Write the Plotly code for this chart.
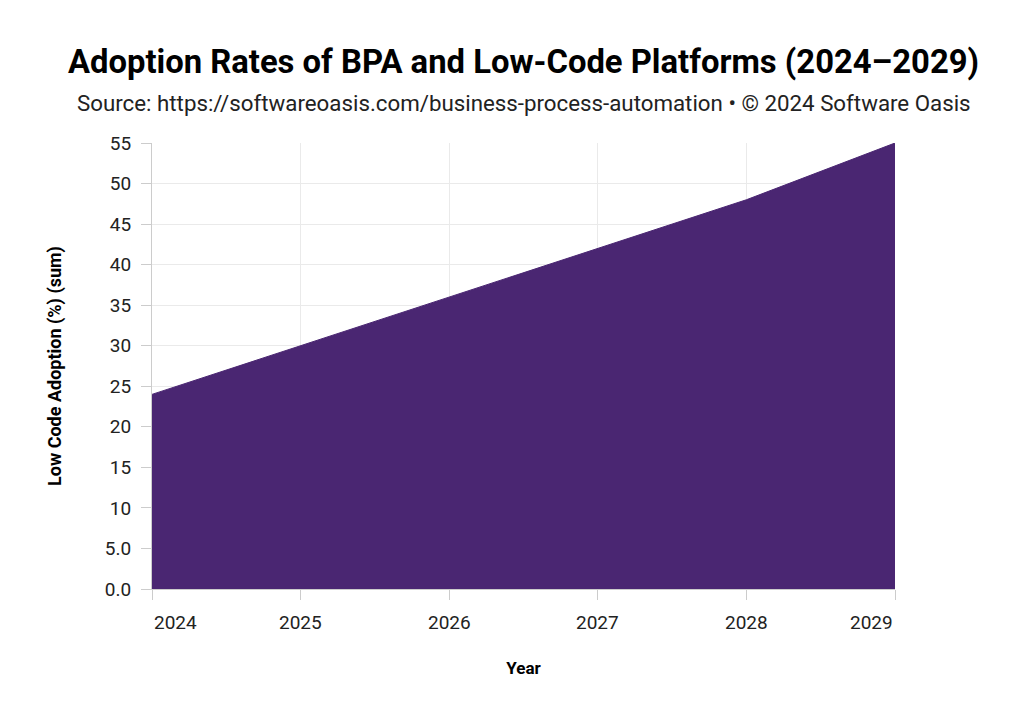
import plotly.graph_objects as go

years = [2024, 2025, 2026, 2027, 2028, 2029]
low_code = [24, 30, 36, 42, 48, 55]

y_ticks = [0, 5, 10, 15, 20, 25, 30, 35, 40, 45, 50, 55]
y_labels = ["0.0", "5.0", "10", "15", "20", "25", "30", "35", "40", "45", "50", "55"]

fill_col = "#4a2672"
font_fam = "Roboto, Arial, sans-serif"

fig = go.Figure()

fig.add_trace(go.Scatter(
    x=years, y=low_code,
    mode="lines", fill="tozeroy",
    line=dict(color=fill_col, width=1),
    fillcolor=fill_col,
    showlegend=False,
))

# x tick labels: first left-aligned, last right-aligned, rest centred
for i, yr in enumerate(years):
    anchor = "center"
    if i == 0:
        anchor = "left"
    elif i == len(years) - 1:
        anchor = "right"
    fig.add_annotation(
        x=yr, y=0, xref="x", yref="paper",
        text=str(yr), showarrow=False,
        xanchor=anchor, yanchor="top", yshift=-20,
        font=dict(size=19, color="#222222", family=font_fam),
    )

fig.add_annotation(
    x=0.5, y=1, xref="paper", yref="paper", yshift=40,
    text="Source: https://softwareoasis.com/business-process-automation • © 2024 Software Oasis",
    showarrow=False, xanchor="center", yanchor="middle",
    font=dict(size=22.3, color="#222222", family=font_fam),
)

fig.update_layout(
    width=1024, height=725,
    margin=dict(l=144, r=137, t=135, b=144),
    paper_bgcolor="white", plot_bgcolor="white",
    font=dict(family=font_fam, color="#222222"),
    title=dict(
        text="<b>Adoption Rates of BPA and Low-Code Platforms (2024–2029)</b>",
        x=0.5, xref="paper", xanchor="center",
        y=0.9255, yref="container", yanchor="middle",
        font=dict(size=32.8, color="#000000", family=font_fam),
    ),
)

fig.update_xaxes(
    range=[2024, 2029],
    tickvals=years, ticktext=["" for _ in years],
    showgrid=True, gridcolor="#eaeaea", gridwidth=1,
    ticks="outside", ticklen=10, tickcolor="#cccccc",
    showline=True, linecolor="#cccccc", linewidth=1,
    zeroline=False,
    title=dict(text="<b>Year</b>", standoff=60,
               font=dict(size=17, color="#000000", family=font_fam)),
)

fig.update_yaxes(
    range=[0, 55],
    tickvals=y_ticks, ticktext=y_labels,
    showgrid=True, gridcolor="#eaeaea", gridwidth=1,
    ticks="outside", ticklen=10, tickcolor="#cccccc",
    showline=True, linecolor="#cccccc", linewidth=1,
    zeroline=False, ticklabelstandoff=6,
    tickfont=dict(size=19, color="#222222", family=font_fam),
    title=dict(text="<b>Low Code Adoption (%) (sum)</b>", standoff=38,
               font=dict(size=18, color="#000000", family=font_fam)),
)

fig.write_html("out.html")
